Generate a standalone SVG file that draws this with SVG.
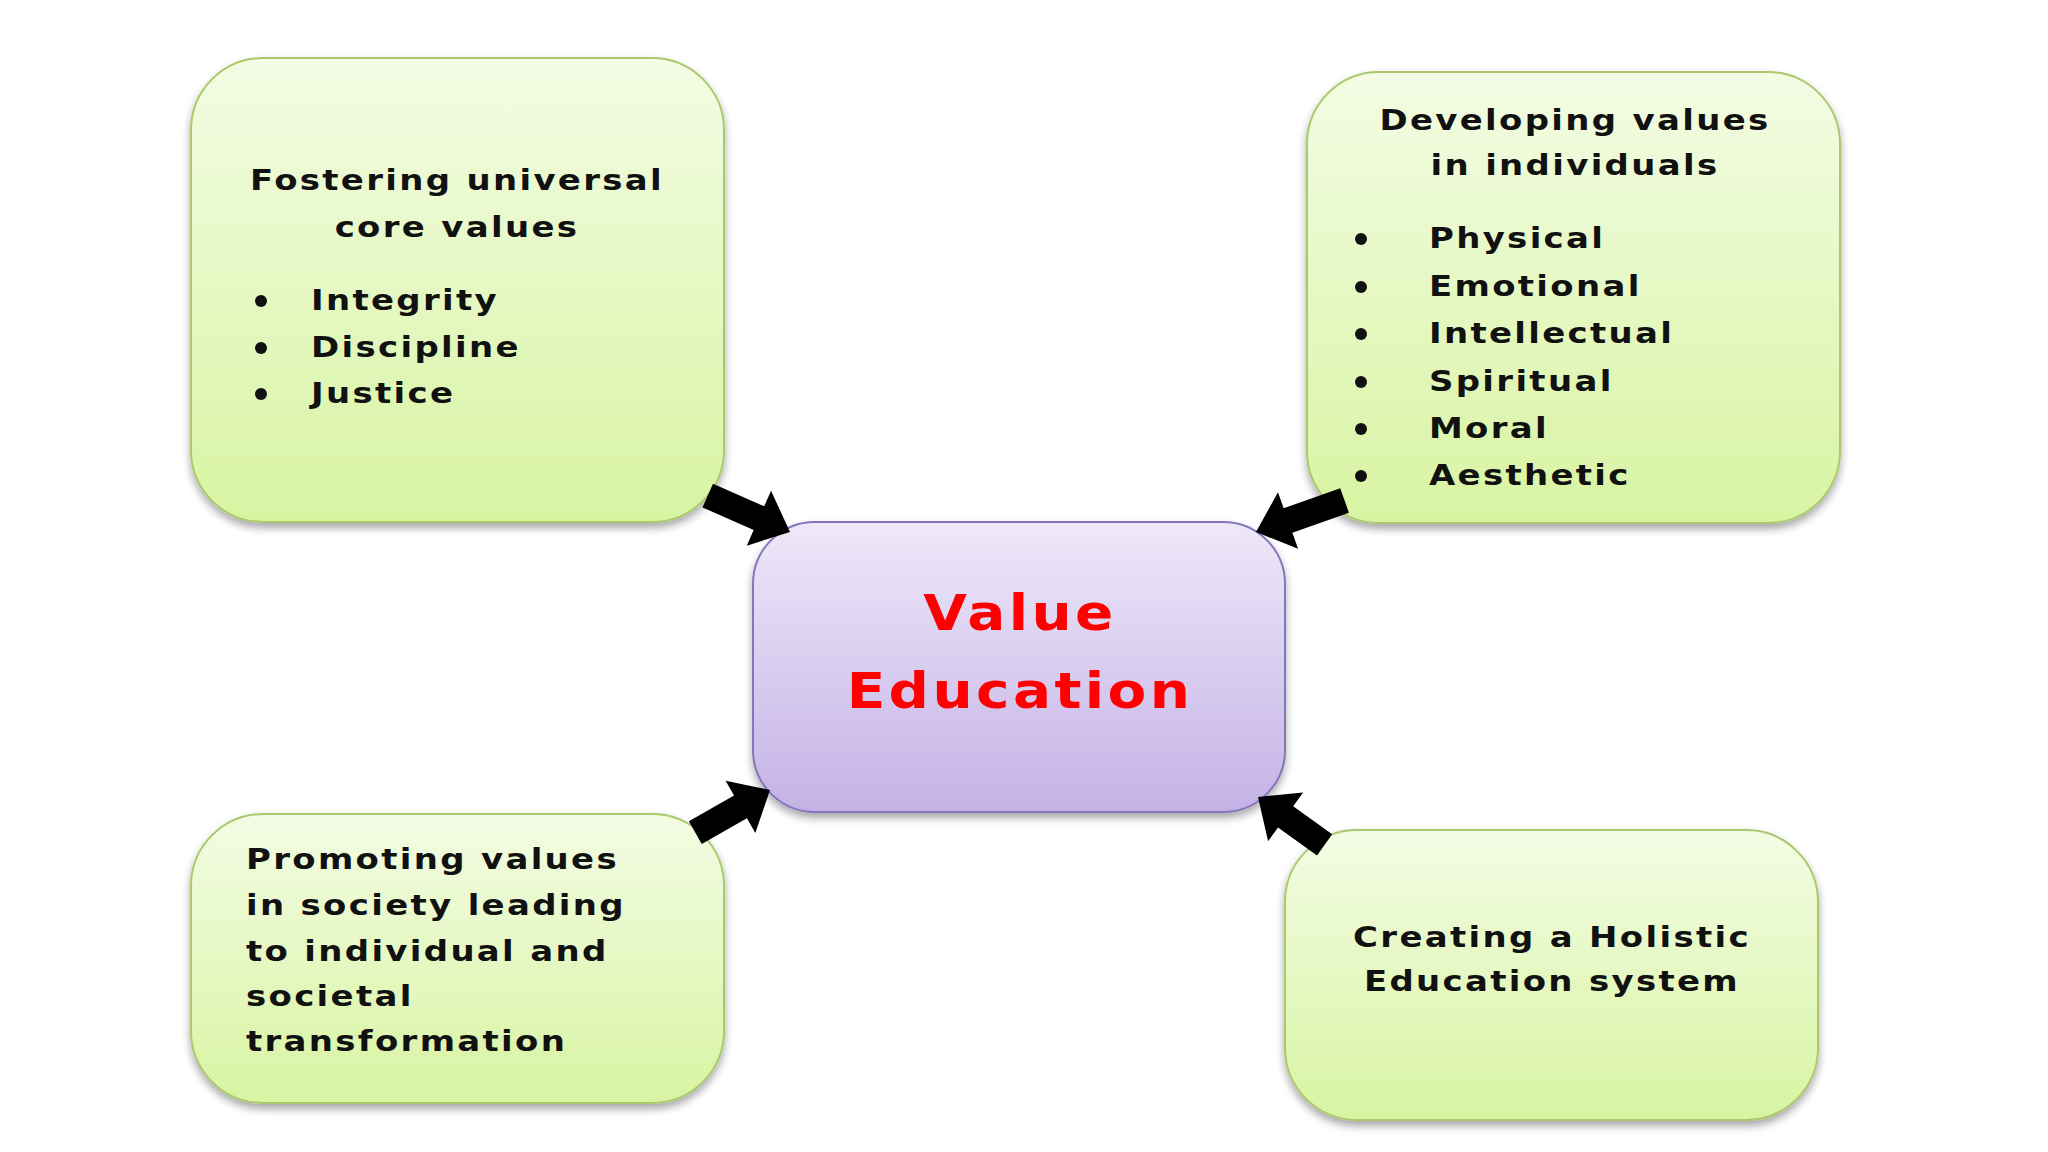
<svg xmlns="http://www.w3.org/2000/svg" width="2048" height="1152" viewBox="0 0 2048 1152">
  <defs>
    <linearGradient id="gGreen" x1="0" y1="0" x2="0" y2="1">
      <stop offset="0" stop-color="#f3fce4"/>
      <stop offset="1" stop-color="#d8f4a2"/>
    </linearGradient>
    <linearGradient id="gPurple" x1="0" y1="0" x2="0" y2="1">
      <stop offset="0" stop-color="#eee8f9"/>
      <stop offset="1" stop-color="#c4b2e6"/>
    </linearGradient>
    <filter id="shadow" x="-10%" y="-10%" width="120%" height="125%">
      <feGaussianBlur in="SourceAlpha" stdDeviation="4"/>
      <feOffset dx="0" dy="5" result="b"/>
      <feComponentTransfer><feFuncA type="linear" slope="0.35"/></feComponentTransfer>
      <feMerge><feMergeNode/><feMergeNode in="SourceGraphic"/></feMerge>
    </filter>
  </defs>
  <style>
    .green { fill: url(#gGreen); stroke: #a9c96c; stroke-width: 2; filter: url(#shadow); }
    .purple { fill: url(#gPurple); stroke: #8574bd; stroke-width: 2; filter: url(#shadow); }
    .t { font-family: "DejaVu Sans", "Liberation Sans", sans-serif; font-weight: bold; font-size: 29px; fill: #111111; letter-spacing: 2px; }
    .c { text-anchor: middle; }
    .title { font-family: "DejaVu Sans", "Liberation Sans", sans-serif; font-weight: bold; font-size: 50px; fill: #ff0000; letter-spacing: 3px; text-anchor: middle; }
    .dot { fill: #111111; }
    .arrow { fill: #000; }
  </style>
  <rect width="2048" height="1152" fill="#ffffff"/>

  <g id="node-fostering">
    <rect class="green" x="191" y="58" width="533" height="464" rx="72" ry="72"/>
    <g transform="matrix(1.17 0 0 1 -77.69 0)">
      <text class="t c" x="457" y="190">Fostering universal</text>
      <text class="t c" x="457" y="237">core values</text>
    </g>
    <circle class="dot" cx="261" cy="301" r="6"/>
    <circle class="dot" cx="261" cy="348" r="6"/>
    <circle class="dot" cx="261" cy="394" r="6"/>
    <g transform="matrix(1.17 0 0 1 -52.87 0)">
      <text class="t" x="311" y="310">Integrity</text>
      <text class="t" x="311" y="357">Discipline</text>
      <text class="t" x="311" y="403">Justice</text>
    </g>
  </g>

  <g id="node-developing">
    <rect class="green" x="1307" y="72" width="533" height="451" rx="72" ry="72"/>
    <g transform="matrix(1.17 0 0 1 -267.75 0)">
      <text class="t c" x="1575" y="130">Developing values</text>
      <text class="t c" x="1575" y="175">in individuals</text>
    </g>
    <circle class="dot" cx="1361" cy="239" r="6"/>
    <circle class="dot" cx="1361" cy="287" r="6"/>
    <circle class="dot" cx="1361" cy="334" r="6"/>
    <circle class="dot" cx="1361" cy="382" r="6"/>
    <circle class="dot" cx="1361" cy="429" r="6"/>
    <circle class="dot" cx="1361" cy="476" r="6"/>
    <g transform="matrix(1.17 0 0 1 -242.93 0)">
      <text class="t" x="1429" y="248">Physical</text>
      <text class="t" x="1429" y="296">Emotional</text>
      <text class="t" x="1429" y="343">Intellectual</text>
      <text class="t" x="1429" y="391">Spiritual</text>
      <text class="t" x="1429" y="438">Moral</text>
      <text class="t" x="1429" y="485">Aesthetic</text>
    </g>
  </g>

  <g id="node-promoting">
    <rect class="green" x="191" y="814" width="533" height="289" rx="72" ry="72"/>
    <g transform="matrix(1.17 0 0 1 -41.82 0)">
      <text class="t" x="246" y="869">Promoting values</text>
      <text class="t" x="246" y="915">in society leading</text>
      <text class="t" x="246" y="961">to individual and</text>
      <text class="t" x="246" y="1006">societal</text>
      <text class="t" x="246" y="1051">transformation</text>
    </g>
  </g>

  <g id="node-holistic">
    <rect class="green" x="1285" y="830" width="533" height="290" rx="72" ry="72"/>
    <g transform="matrix(1.17 0 0 1 -263.84 0)">
      <text class="t c" x="1552" y="947">Creating a Holistic</text>
      <text class="t c" x="1552" y="991">Education system</text>
    </g>
  </g>

  <g id="node-value-education">
    <rect class="purple" x="753" y="522" width="532" height="290" rx="62" ry="62"/>
    <g transform="matrix(1.13 0 0 1 -132.6 0)">
      <text class="title" x="1020" y="630">Value</text>
      <text class="title" x="1020" y="708">Education</text>
    </g>
  </g>

  <g id="connectors">
    <g transform="translate(790,532) rotate(23.9)">
      <polygon class="arrow" points="-90,-13 -34,-13 -34,-30 0,0 -34,30 -34,13 -90,13"/>
    </g>
    <g transform="translate(1256,532) rotate(160.4)">
      <polygon class="arrow" points="-94,-13 -34,-13 -34,-30 0,0 -34,30 -34,13 -94,13"/>
    </g>
    <g transform="translate(770,790) rotate(-29.7)">
      <polygon class="arrow" points="-86,-13 -34,-13 -34,-30 0,0 -34,30 -34,13 -86,13"/>
    </g>
    <g transform="translate(1258,797) rotate(-144.3)">
      <polygon class="arrow" points="-82,-13 -34,-13 -34,-30 0,0 -34,30 -34,13 -82,13"/>
    </g>
  </g>
</svg>
